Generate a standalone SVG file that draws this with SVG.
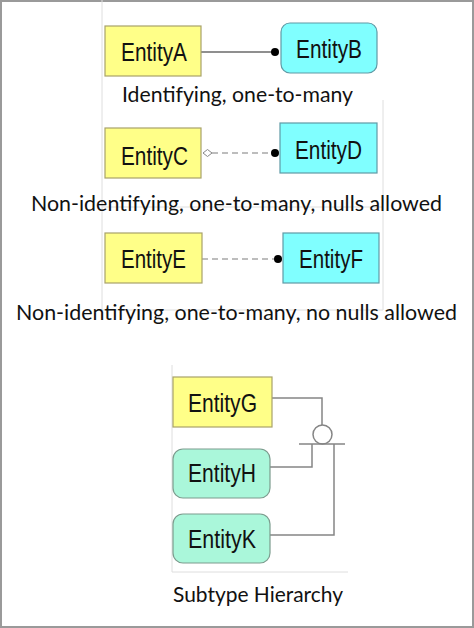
<svg xmlns="http://www.w3.org/2000/svg" width="474" height="628" viewBox="0 0 474 628">
<style>
.ent{font-family:"Liberation Sans",Arial,sans-serif;font-size:26px;fill:#111}
.lbl{font-family:Lato,"Open Sans",sans-serif;font-size:21px;fill:#111}
.yel{fill:#ffff88;stroke:#a8a26a;stroke-width:1.2}
.cyan{fill:#80ffff;stroke:#5f9aa6;stroke-width:1.2}
.mint{fill:#aaf7da;stroke:#7c9c8e;stroke-width:1.2}
.solid{fill:none;stroke:#6a6a6a;stroke-width:1.3}
.dash{fill:none;stroke:#a8a8a8;stroke-width:1.3;stroke-dasharray:6 4}
.sub{fill:none;stroke:#858585;stroke-width:1.5}
.panel{fill:none;stroke:#dedede;stroke-width:1}
</style>
<rect x="1" y="1" width="472" height="626" fill="#ffffff" stroke="#9a9a9a" stroke-width="2"/>
<g id="panels">
<polyline class="panel" points="102,0 102,310 383,310 383,100"/>
<line class="panel" x1="102" y1="207" x2="383" y2="207"/>
<polyline class="panel" points="172,365 172,572 348,572"/>
</g>
<g id="connectors">
<line class="solid" x1="201" y1="52" x2="275" y2="52"/>
<circle cx="275" cy="52" r="4" fill="#000"/>
<line class="dash" x1="212" y1="153" x2="274" y2="153"/>
<polygon points="203,153 207.5,149.5 212,153 207.5,156.5" fill="#fff" stroke="#888" stroke-width="1"/>
<circle cx="275" cy="153" r="4" fill="#000"/>
<line class="dash" x1="202" y1="259" x2="277" y2="259"/>
<circle cx="278" cy="259" r="4" fill="#000"/>
<polyline class="sub" points="272,398 322,398 322,425"/>
<circle class="sub" cx="322.5" cy="434.5" r="9.5"/>
<line class="sub" x1="299" y1="444" x2="345" y2="444"/>
<polyline class="sub" points="312,444 312,467 270,467"/>
<polyline class="sub" points="334,444 334,535 270,535"/>
</g>
<g id="EntityA"><rect class="yel" x="105" y="26" width="96" height="50"/><text class="ent" x="121" y="61" textLength="66" lengthAdjust="spacingAndGlyphs">EntityA</text></g>
<g id="EntityB"><rect class="cyan" x="281" y="23" width="96" height="50" rx="9"/><text class="ent" x="296" y="58" textLength="66" lengthAdjust="spacingAndGlyphs">EntityB</text></g>
<g id="EntityC"><rect class="yel" x="105" y="128" width="96" height="50"/><text class="ent" x="121" y="165" textLength="67" lengthAdjust="spacingAndGlyphs">EntityC</text></g>
<g id="EntityD"><rect class="cyan" x="280" y="123" width="97" height="50"/><text class="ent" x="295" y="159" textLength="67" lengthAdjust="spacingAndGlyphs">EntityD</text></g>
<g id="EntityE"><rect class="yel" x="105" y="233" width="97" height="50"/><text class="ent" x="121" y="268" textLength="65" lengthAdjust="spacingAndGlyphs">EntityE</text></g>
<g id="EntityF"><rect class="cyan" x="283" y="233" width="96" height="50"/><text class="ent" x="299" y="268" textLength="64" lengthAdjust="spacingAndGlyphs">EntityF</text></g>
<g id="EntityG"><rect class="yel" x="173" y="377" width="99" height="50"/><text class="ent" x="188" y="412" textLength="69" lengthAdjust="spacingAndGlyphs">EntityG</text></g>
<g id="EntityH"><rect class="mint" x="173" y="449" width="97" height="49" rx="10"/><text class="ent" x="188" y="482" textLength="68" lengthAdjust="spacingAndGlyphs">EntityH</text></g>
<g id="EntityK"><rect class="mint" x="173" y="514" width="97" height="49" rx="10"/><text class="ent" x="188" y="548" textLength="68" lengthAdjust="spacingAndGlyphs">EntityK</text></g>
<g id="labels">
<text class="lbl" x="122" y="102" textLength="231" lengthAdjust="spacingAndGlyphs">Identifying, one-to-many</text>
<text class="lbl" x="31" y="211" textLength="411" lengthAdjust="spacingAndGlyphs">Non-identifying, one-to-many, nulls allowed</text>
<text class="lbl" x="16" y="320" textLength="441" lengthAdjust="spacingAndGlyphs">Non-identifying, one-to-many, no nulls allowed</text>
<text class="lbl" x="173" y="602" textLength="170" lengthAdjust="spacingAndGlyphs">Subtype Hierarchy</text>
</g>
</svg>
